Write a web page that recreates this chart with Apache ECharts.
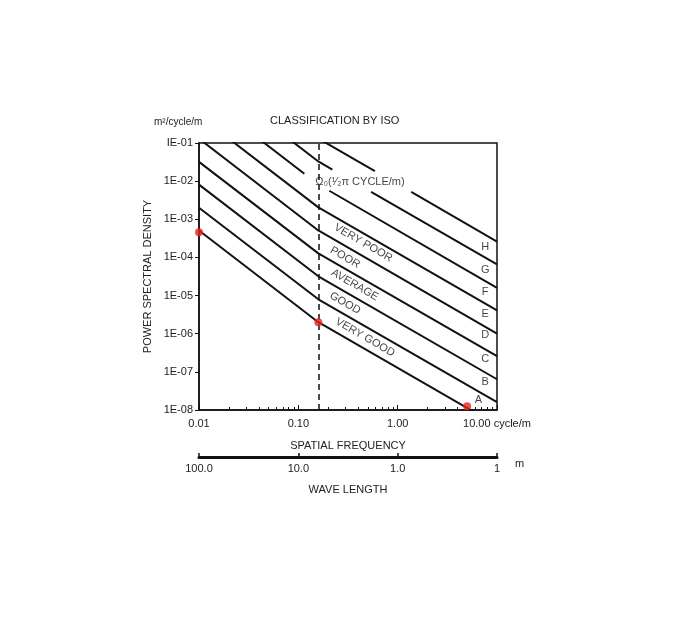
<!DOCTYPE html>
<html>
<head>
<meta charset="utf-8">
<script src="https://cdn.jsdelivr.net/npm/echarts@6/dist/echarts.min.js"></script>
<style>html,body{margin:0;background:#fff}#main{width:677px;height:623px}</style>
</head>
<body>
<div id="main"></div>
<script>
// PSD class boundaries: value at n=0.01, at n0, at n=10 (cycle/m)
var n0 = 0.159;
var boundaryAt001 = [5.1e-4, 2.0e-3, 8.1e-3, 3.2e-2, 0.13, 0.52, 2.07, 8.3, 33];
var boundaryAtN0 = [2.0e-6, 8.0e-6, 3.2e-5, 1.28e-4, 5.1e-4, 2.05e-3, 8.2e-3, 3.28e-2, 0.131];
var boundaryAt10 = [4.0e-9, 1.6e-8, 6.4e-8, 2.6e-7, 1.0e-6, 4.1e-6, 1.6e-5, 6.6e-5, 2.6e-4];
// breaks in the upper lines around the Omega label: [x, y] end and resume points
var gaps = {
  6: [[0.115, 1.57e-2], [0.205, 5.6e-3]],
  7: [[0.22, 2.0e-2], [0.54, 5.2e-3]],
  8: [[0.59, 1.84e-2], [1.37, 5.2e-3]]
};
var classLetters = ['A', 'B', 'C', 'D', 'E', 'F', 'G', 'H'];
var letterPos = [[6.5, 1.8e-8], [7.6, 5.5e-8], [7.6, 2.2e-7], [7.6, 9e-7], [7.6, 3.3e-6], [7.6, 1.27e-5], [7.6, 4.7e-5], [7.6, 1.9e-4]];
var gradeNames = ['VERY POOR', 'POOR', 'AVERAGE', 'GOOD', 'VERY GOOD'];
var gradePos = [[0.45, 2.4e-4], [0.295, 1.0e-4], [0.37, 1.9e-5], [0.295, 6.3e-6], [0.47, 8e-7]];
var redPoints = [[0.01, 4.6e-4], [0.159, 2.0e-6], [5.0, 1.25e-8]];
var yTickLabels = {'-1': 'IE-01', '-2': '1E-02', '-3': '1E-03', '-4': '1E-04', '-5': '1E-05', '-6': '1E-06', '-7': '1E-07', '-8': '1E-08'};
var xTickLabels = {'0.01': '0.01', '0.1': '0.10', '1': '1.00', '10': '10.00 cycle/m'};
var waveTickLabels = {'100': '100.0', '10': '10.0', '1': '1.0', '0.1': '1'};

var font = 'Liberation Sans';
var myChart = echarts.init(document.getElementById('main'));

var series = [];
for (var i = 0; i < boundaryAtN0.length; i++) {
  var pts = [[0.01, boundaryAt001[i]], [n0, boundaryAtN0[i]], [10, boundaryAt10[i]]];
  var g = gaps[i];
  if (g) {
    var before = pts.filter(function(p) { return p[0] < g[0][0]; });
    var after = pts.filter(function(p) { return p[0] > g[1][0]; });
    pts = before.concat([g[0], '-', g[1]]).concat(after);
  }
  series.push({
    type: 'line', data: pts, showSymbol: false, clip: true, silent: true,
    lineStyle: { color: '#111', width: 2 }, connectNulls: false
  });
}

// dashed n0 line
series.push({
  type: 'line', data: [], markLine: {
    silent: true, symbol: 'none', label: { show: false },
    lineStyle: { color: '#111', type: [6, 4], width: 1.5 },
    data: [{ xAxis: n0 }]
  }
});

series.push({
  type: 'scatter', data: letterPos.map(function(p, k) { return { value: p, name: classLetters[k] }; }),
  symbolSize: 0, label: { show: true, formatter: '{b}', color: '#111', fontFamily: font, fontSize: 11 }
});
series.push({
  type: 'scatter', data: gradePos.map(function(p, k) { return { value: p, name: gradeNames[k] }; }),
  symbolSize: 0, label: { show: true, formatter: '{b}', rotate: -30, color: '#111', fontFamily: font, fontSize: 11 }
});
series.push({
  type: 'scatter', data: [{ value: [0.148, 9.5e-3], name: 'Ω\u2080(\u00B9\u2044\u2082π CYCLE/m)' }],
  symbolSize: 0, label: { show: true, formatter: '{b}', position: 'right', distance: 0, color: '#111', fontFamily: font, fontSize: 11 }
});
series.push({
  type: 'scatter', data: redPoints, symbolSize: 8, itemStyle: { color: '#e8231b' }, z: 5
});

var option = {
  animation: false,
  textStyle: { fontFamily: font },
  grid: [
    { left: 199, right: 180, top: 143, bottom: 213, show: true, borderColor: '#111', borderWidth: 1.5 },
    { left: 199, right: 180, top: 457, height: 0 }
  ],
  xAxis: [{
    type: 'log', min: 0.01, max: 10, logBase: 10, gridIndex: 0,
    axisLine: { lineStyle: { color: '#111', width: 1.5 } },
    axisTick: { inside: true, length: 5, lineStyle: { color: '#111' } },
    minorTick: { show: true, splitNumber: 9, length: 3, lineStyle: { color: '#111' } },
    splitLine: { show: false },
    axisLabel: { color: '#222', fontSize: 11, margin: 8, formatter: function(v) { return xTickLabels[String(+v.toPrecision(3))] || ''; } },
    name: 'SPATIAL FREQUENCY', nameLocation: 'middle', nameGap: 30,
    nameTextStyle: { color: '#222', fontSize: 11 }
  }, {
    type: 'log', min: 0.1, max: 100, inverse: true, gridIndex: 1, position: 'bottom',
    axisLine: { lineStyle: { color: '#111', width: 3 } },
    axisTick: { inside: true, length: 4, lineStyle: { color: '#111', width: 1.5 } },
    splitLine: { show: false },
    axisLabel: { color: '#222', fontSize: 11, margin: 6, formatter: function(v) { return waveTickLabels[String(+v.toPrecision(3))] || ''; } },
    name: 'WAVE LENGTH', nameLocation: 'middle', nameGap: 27,
    nameTextStyle: { color: '#222', fontSize: 11 }
  }],
  yAxis: [{
    type: 'log', min: 1e-8, max: 0.1, gridIndex: 0,
    axisLine: { lineStyle: { color: '#111', width: 1.5 } },
    axisTick: { length: 4, lineStyle: { color: '#111' } },
    splitLine: { show: false },
    axisLabel: { color: '#222', fontSize: 11, margin: 6, formatter: function(v) { return yTickLabels[String(Math.round(Math.log10(v)))] || ''; } },
    name: 'POWER SPECTRAL DENSITY', nameLocation: 'middle', nameGap: 46,
    nameTextStyle: { color: '#222', fontSize: 11 }
  }, {
    type: 'value', gridIndex: 1, show: false
  }],
  graphic: [
    { type: 'text', left: 154, top: 117, style: { text: 'm²/cycle/m', font: '10px ' + font, fill: '#222' } },
    { type: 'text', left: 270, top: 115, style: { text: 'CLASSIFICATION BY ISO', font: '11px ' + font, fill: '#222' } },
    { type: 'text', left: 515, top: 458, style: { text: 'm', font: '11px ' + font, fill: '#222' } }
  ],
  series: series
};
myChart.setOption(option);
</script>
</body>
</html>
